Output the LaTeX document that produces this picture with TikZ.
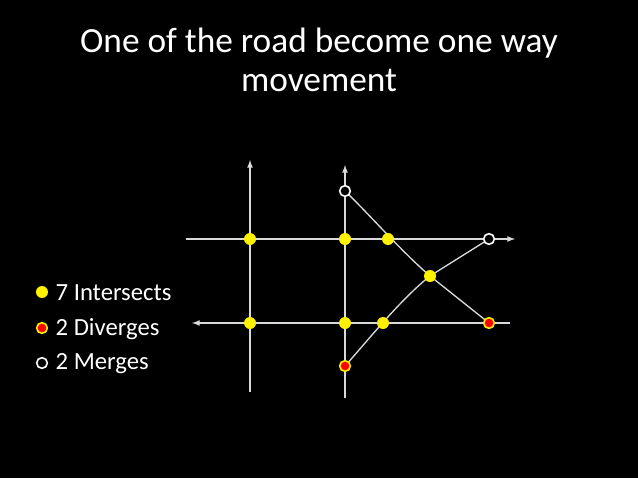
\documentclass[tikz,border=0pt]{standalone}
\usepackage{fontspec}
\setmainfont{Carlito}
\begin{document}
\begin{tikzpicture}[x=0.75pt,y=-0.75pt,
  road/.style={draw=white!85!black,line width=1pt},
  ydot/.style={circle,fill=yellow,inner sep=0,minimum size=9pt},
  rdot/.style={circle,fill=red,draw=yellow,line width=1.2pt,inner sep=0,minimum size=8pt},
  wdot/.style={circle,fill=black,draw=white,line width=1.2pt,inner sep=0,minimum size=8pt},
  lbl/.style={text=white,font=\fontsize{18.5}{22}\selectfont,anchor=west}]
\fill[black] (0,0) rectangle (638,478);
\useasboundingbox (0,0) rectangle (638,478);
\node[text=white,font=\fontsize{26.5}{29}\selectfont,align=center] (title) at (319,60) {One of the road become one way\\movement};
\coordinate (v1t) at (250,160); \coordinate (v1b) at (250,392);
\coordinate (v2t) at (345,165); \coordinate (v2b) at (345,398);
\coordinate (h1l) at (186,239); \coordinate (h1r) at (515,239);
\coordinate (h2l) at (192,323); \coordinate (h2r) at (510,323);
\draw[road,-latex] (v1b) -- (v1t);
\draw[road,-latex] (v2b) -- (v2t);
\draw[road,-latex] (h1l) -- (h1r);
\draw[road,-latex] (h2r) -- (h2l);
\coordinate (m1) at (345,191); \coordinate (m2) at (489,239);
\coordinate (d1) at (489,323); \coordinate (d2) at (345,366);
\draw[road] (m1) .. controls (370,215) and (400,250) .. (430,276) -- (d1);
\draw[road] (d2) .. controls (370,338) and (400,300) .. (430,276) -- (m2);
\foreach \n/\p in {a/{250,239},b/{345,239},c/{388,239},d/{430,276},e/{250,323},f/{345,323},g/{383,323}}
  \node[ydot] (\n) at (\p) {};
\node[wdot] (w1) at (m1) {};
\node[wdot] (w2) at (m2) {};
\node[rdot] (r1) at (d1) {};
\node[rdot] (r2) at (d2) {};
\node[ydot] (l1) at (42,292) {};
\node[rdot] (l2) at (42,328) {};
\node[wdot] (l3) at (42,363) {};
\node[lbl] (t1) at (51,293) {7 Intersects};
\node[lbl] (t2) at (51,329) {2 Diverges};
\node[lbl] (t3) at (51,364) {2 Merges};
\end{tikzpicture}
\end{document}
